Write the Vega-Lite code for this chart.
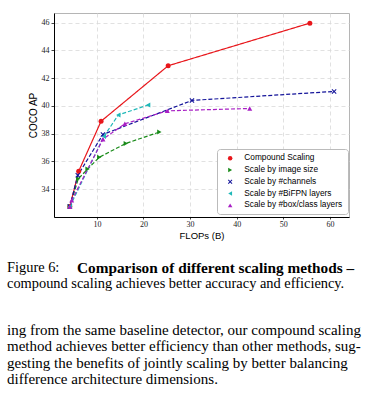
{
  "$schema": "https://vega.github.io/schema/vega-lite/v6.json",
  "padding": {"left": 7, "top": 12, "right": 5, "bottom": 5},
  "background": "white",
  "bounds": "flush",
  "spacing": 51,
  "config": {"view": {"stroke": null}, "font": "Liberation Sans"},
  "vconcat": [
    {
      "width": 295,
      "height": 204,
      "view": {"stroke": "#b5b5b5", "strokeWidth": 1},
      "data": {"values": [
        {"series": "Compound Scaling", "flops": 4.2, "ap": 32.75},
        {"series": "Compound Scaling", "flops": 6.1, "ap": 35.3},
        {"series": "Compound Scaling", "flops": 10.9, "ap": 38.9},
        {"series": "Compound Scaling", "flops": 25.3, "ap": 42.9},
        {"series": "Compound Scaling", "flops": 55.7, "ap": 45.97},
        {"series": "Scale by image size", "flops": 4.2, "ap": 32.75},
        {"series": "Scale by image size", "flops": 6.0, "ap": 34.75},
        {"series": "Scale by image size", "flops": 8.0, "ap": 35.45},
        {"series": "Scale by image size", "flops": 10.5, "ap": 36.3},
        {"series": "Scale by image size", "flops": 16.2, "ap": 37.3},
        {"series": "Scale by image size", "flops": 23.4, "ap": 38.12},
        {"series": "Scale by #channels", "flops": 4.2, "ap": 32.75},
        {"series": "Scale by #channels", "flops": 5.9, "ap": 35.0},
        {"series": "Scale by #channels", "flops": 11.3, "ap": 37.95},
        {"series": "Scale by #channels", "flops": 30.4, "ap": 40.4},
        {"series": "Scale by #channels", "flops": 60.9, "ap": 41.05},
        {"series": "Scale by #BiFPN layers", "flops": 4.2, "ap": 32.75},
        {"series": "Scale by #BiFPN layers", "flops": 11.5, "ap": 37.8},
        {"series": "Scale by #BiFPN layers", "flops": 14.6, "ap": 39.35},
        {"series": "Scale by #BiFPN layers", "flops": 21.0, "ap": 40.07},
        {"series": "Scale by #box/class layers", "flops": 4.2, "ap": 32.75},
        {"series": "Scale by #box/class layers", "flops": 4.6, "ap": 33.2},
        {"series": "Scale by #box/class layers", "flops": 11.3, "ap": 37.6},
        {"series": "Scale by #box/class layers", "flops": 16.0, "ap": 38.72},
        {"series": "Scale by #box/class layers", "flops": 25.1, "ap": 39.65},
        {"series": "Scale by #box/class layers", "flops": 42.8, "ap": 39.82}
      ]},
      "encoding": {
        "x": {
          "field": "flops", "type": "quantitative", "title": "FLOPs (B)",
          "scale": {"domain": [0.8, 64.1], "nice": false, "zero": false},
          "axis": {
            "values": [10, 20, 30, 40, 50, 60],
            "labelFont": "Liberation Serif", "labelFontSize": 8, "labelColor": "#222",
            "tickSize": 2, "tickColor": "#444", "labelPadding": 1,
            "domainColor": "black", "domainWidth": 1,
            "gridColor": "#d9d9d9", "gridDash": [4, 3], "gridWidth": 0.8,
            "titleFont": "Liberation Sans", "titleFontSize": 9.5, "titleFontWeight": "normal",
            "titleColor": "black", "titlePadding": 2
          }
        },
        "y": {
          "field": "ap", "type": "quantitative", "title": "COCO AP",
          "scale": {"domain": [32, 46.7], "nice": false, "zero": false},
          "axis": {
            "values": [34, 36, 38, 40, 42, 44, 46],
            "labelFont": "Liberation Serif", "labelFontSize": 8, "labelColor": "#222",
            "tickSize": 3, "tickColor": "#444", "labelPadding": 2,
            "domainColor": "black", "domainWidth": 1,
            "gridColor": "#d9d9d9", "gridDash": [4, 3], "gridWidth": 0.8,
            "titleFont": "Liberation Sans", "titleFontSize": 10, "titleFontWeight": "normal",
            "titleColor": "black", "titlePadding": 3
          }
        }
      },
      "layer": [
        {
          "mark": {"type": "line", "strokeWidth": 1.2},
          "encoding": {
            "stroke": {
              "field": "series", "type": "nominal", "legend": null,
              "scale": {
                "range": ["#e8161b", "#1fb8b8", "#a81fc4", "#14149a", "#188a18"]
              }
            },
            "strokeDash": {
              "field": "series", "type": "nominal", "legend": null,
              "scale": {
                "range": [[1, 0], [4, 2], [4, 2], [4, 2], [4, 2]]
              }
            }
          }
        },
        {
          "mark": {"type": "point", "filled": true, "opacity": 1, "size": 25},
          "encoding": {
            "color": {
              "field": "series", "type": "nominal",
              "scale": {
                "domain": ["Compound Scaling", "Scale by image size", "Scale by #channels", "Scale by #BiFPN layers", "Scale by #box/class layers"],
                "range": ["#e8161b", "#188a18", "#14149a", "#1fb8b8", "#a81fc4"]
              },
              "legend": {
                "title": null, "orient": "none", "legendX": 163, "legendY": 136,
                "fillColor": "white", "strokeColor": "#bbbbbb", "cornerRadius": 3,
                "padding": 5, "labelFont": "Liberation Sans", "labelFontSize": 8.3,
                "labelColor": "black", "symbolSize": 20, "symbolOffset": 4,
                "labelOffset": 10, "rowPadding": 2.8
              }
            },
            "shape": {
              "field": "series", "type": "nominal",
              "scale": {
                "domain": ["Compound Scaling", "Scale by image size", "Scale by #channels", "Scale by #BiFPN layers", "Scale by #box/class layers"],
                "range": ["circle", "triangle-right", "M-1,-0.7L-0.7,-1L0,-0.3L0.7,-1L1,-0.7L0.3,0L1,0.7L0.7,1L0,0.3L-0.7,1L-1,0.7L-0.3,0Z", "triangle-left", "triangle-up"]
              },
              "legend": {
                "title": null, "orient": "none", "legendX": 163, "legendY": 136,
                "fillColor": "white", "strokeColor": "#bbbbbb", "cornerRadius": 3,
                "padding": 5, "labelFont": "Liberation Sans", "labelFontSize": 8.3,
                "labelColor": "black", "symbolSize": 20, "symbolOffset": 4,
                "labelOffset": 10, "rowPadding": 2.8
              }
            }
          }
        }
      ]
    },
    {
      "bounds": "flush",
      "spacing": 46,
      "vconcat": [
        {
          "width": 366,
          "height": 16,
          "view": {"stroke": null},
          "layer": [
            {
              "data": {"values": [
                {"line": 1, "text": "Figure 6:"},
                {"line": 2, "text": "compound scaling achieves better accuracy and efficiency."}
              ]},
              "mark": {"type": "text", "align": "left", "baseline": "middle", "font": "Liberation Serif", "fontSize": 14.4, "dx": -47, "color": "black"},
              "encoding": {
                "x": {"datum": 0, "type": "quantitative", "scale": {"domain": [0, 1]}, "axis": null},
                "y": {"field": "line", "type": "ordinal", "scale": {"type": "point", "padding": 0}, "axis": null},
                "text": {"field": "text"}
              }
            },
            {
              "data": {"values": [
                {"line": 1, "text": "Comparison of different scaling methods –"}
              ]},
              "mark": {"type": "text", "align": "left", "baseline": "middle", "font": "Liberation Serif", "fontSize": 15.3, "fontWeight": "bold", "dx": 23, "color": "black"},
              "encoding": {
                "x": {"datum": 0, "type": "quantitative", "scale": {"domain": [0, 1]}, "axis": null},
                "y": {"field": "line", "type": "ordinal", "scale": {"type": "point", "padding": 0}, "axis": null},
                "text": {"field": "text"}
              }
            }
          ]
        },
        {
          "width": 366,
          "height": 49,
          "view": {"stroke": null},
          "data": {"values": [
            {"line": 1, "text": "ing from the same baseline detector, our compound scaling"},
            {"line": 2, "text": "method achieves better efficiency than other methods, sug-"},
            {"line": 3, "text": "gesting the benefits of jointly scaling by better balancing"},
            {"line": 4, "text": "difference architecture dimensions."}
          ]},
          "mark": {"type": "text", "align": "left", "baseline": "middle", "font": "Liberation Serif", "fontSize": 15, "dx": -47, "color": "black"},
          "encoding": {
            "x": {"datum": 0, "type": "quantitative", "scale": {"domain": [0, 1]}, "axis": null},
            "y": {"field": "line", "type": "ordinal", "scale": {"type": "point", "padding": 0}, "axis": null},
            "text": {"field": "text"}
          }
        }
      ]
    }
  ]
}
